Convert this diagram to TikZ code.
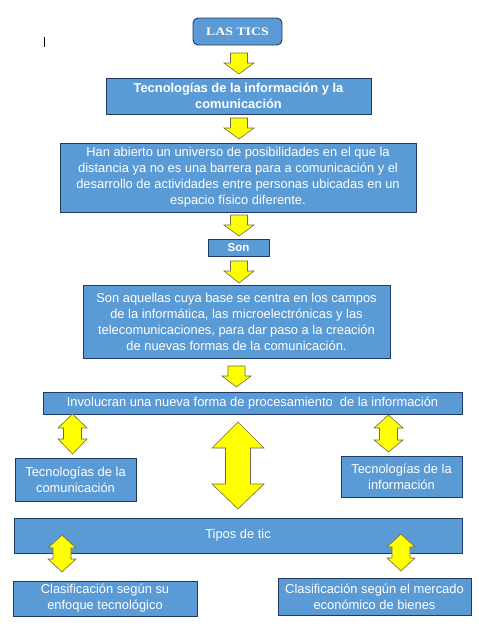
\documentclass[tikz,border=0pt]{standalone}
\usepackage{fontspec}
\setmainfont{Liberation Sans}
\newfontfamily\ticsfont{Liberation Serif}
\definecolor{boxfill}{HTML}{5B9BD5}
\definecolor{boxline}{HTML}{1F3A64}
\definecolor{arrfill}{HTML}{FFFF00}
\definecolor{arrline}{HTML}{6B6B50}
\newcommand\blkdown[6]{%
  \draw[yarrow] (#1-#5,#2) -- (#1+#5,#2) -- (#1+#5,#3) -- (#1+#6,#3) -- (#1,#4)
    -- (#1-#6,#3) -- (#1-#5,#3) -- cycle;}
\newcommand\blkdouble[7]{%
  \draw[yarrow] (#1,#2) -- (#1+#7,#3) -- (#1+#6,#3) -- (#1+#6,#4) -- (#1+#7,#4)
    -- (#1,#5) -- (#1-#7,#4) -- (#1-#6,#4) -- (#1-#6,#3) -- (#1-#7,#3) -- cycle;}
\begin{document}
\begin{tikzpicture}[x=1pt,y=-1pt,
  box/.style={draw=boxline, line width=0.9pt, fill=boxfill, text=white,
    inner sep=0pt, align=center, font=\fontsize{12.9}{16}\selectfont},
  boldbox/.style={box, font=\fontsize{12.9}{16}\selectfont\bfseries},
  yarrow/.style={draw=arrline, fill=arrfill, line width=0.6pt, line join=miter}]
\useasboundingbox[fill=white] (0,0) rectangle (479,627);

% text cursor mark
\draw[line width=0.9pt] (44.3,37) -- (44.3,47);

\node[box, rounded corners=5pt, minimum width=89pt, minimum height=27pt,
  font=\ticsfont\fontsize{11.5}{13}\selectfont\bfseries] (tics) at (237.5,31.5)
  {\scalebox{1.2}[1]{LAS TICS}};
\node[boldbox, minimum width=265pt, minimum height=36pt] (tic2) at (238.5,96)
  {Tecnologías de la información y la\\comunicación};
\node[box, minimum width=356pt, minimum height=69pt] (han) at (238,177.5)
  {Han abierto un universo de posibilidades en el que la\\
   distancia ya no es una barrera para a comunicación y el\\
   desarrollo de actividades entre personas ubicadas en un\\
   espacio físico diferente.};
\node[boldbox, minimum width=61pt, minimum height=17pt,
  font=\fontsize{11.5}{13}\selectfont\bfseries] (son) at (238.5,247.5) {Son};
\node[box, minimum width=307pt, minimum height=73pt] (aquellas) at (236.5,321.5)
  {Son aquellas cuya base se centra en los campos\\
   de la informática, las microelectrónicas y las\\
   telecomunicaciones, para dar paso a la creación\\
   de nuevas formas de la comunicación.};
\node[box, minimum width=419pt, minimum height=22pt] (invol) at (252.5,403)
  {Involucran una nueva forma de procesamiento\ \ de la información};
\node[box, minimum width=121pt, minimum height=43pt] (tcom) at (75.5,479.5)
  {Tecnologías de la\\comunicación};
\node[box, minimum width=121pt, minimum height=41pt] (tinf) at (401.5,476.5)
  {Tecnologías de la\\información};
\node[box, minimum width=448pt, minimum height=35pt] (tipos) at (238,535.5)
  {Tipos de tic};
\node[box, minimum width=184pt, minimum height=35pt] (clas1) at (105,598.5)
  {Clasificación según su\\enfoque tecnológico};
\node[box, minimum width=193pt, minimum height=37pt] (clas2) at (374.5,596.5)
  {Clasificación según el mercado\\económico de bienes};

% single block arrows (cx, top, head, tip, shaft half, head half)
\blkdown{239}{53}{63}{74}{8.5}{15}
\blkdown{239}{118}{128}{139}{8.5}{15}
\blkdown{239}{215}{225}{236}{8.5}{15}
\blkdown{239}{261}{271}{283}{8.5}{15}
\blkdown{236.5}{366}{376}{387}{8.5}{14.5}

% double block arrows (cx, tip1, head1, head2, tip2, shaft half, head half)
\blkdouble{72.5}{414}{428}{439}{454}{9}{14.5}
\blkdouble{388.5}{415}{428}{440}{452}{9}{14.5}
\blkdouble{238}{422}{448}{484}{509}{12.5}{26}
\blkdouble{62}{535}{548}{559}{572}{9}{14}
\blkdouble{401}{534}{547}{558}{571}{9}{14}
\end{tikzpicture}
\end{document}
